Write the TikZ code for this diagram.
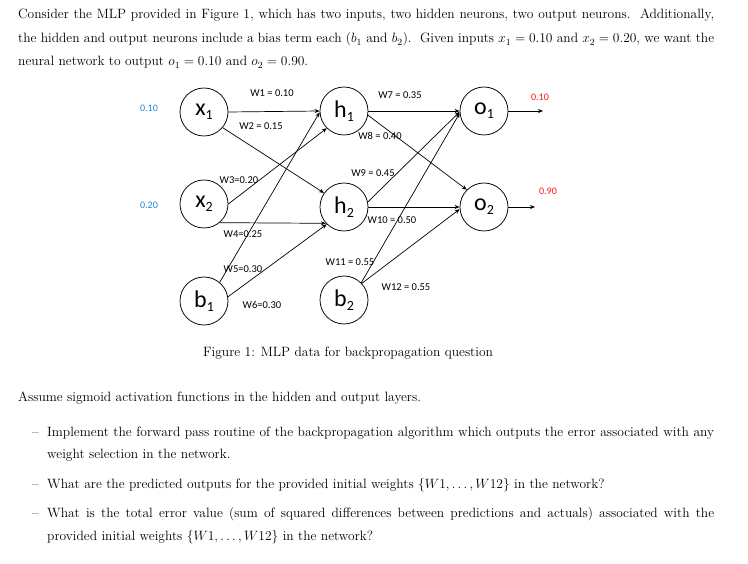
\RequirePackage{fix-cm}
\documentclass[tikz,border=0pt]{standalone}
\usepackage{fontspec}
\newfontfamily\diag{Carlito}
\usetikzlibrary{arrows.meta}
\definecolor{inblue}{RGB}{38,132,215}
\definecolor{outred}{RGB}{255,20,20}
\tikzset{
  neuron/.style={circle,draw=black,line width=0.75pt,minimum size=48pt,inner sep=0pt,font=\diag\fontsize{24}{24}\selectfont},
  conn/.style={line width=0.7pt,-{Stealth[length=5pt,width=4pt]}},
  wlab/.style={font=\diag\fontsize{10.5}{11}\selectfont,inner sep=0pt},
  inlab/.style={font=\diag\fontsize{10}{11}\selectfont,text=inblue,inner sep=0pt},
  outlab/.style={font=\diag\fontsize{10}{11}\selectfont,text=outred,inner sep=0pt},
  txt/.style={anchor=base west,inner sep=0pt,font=\fontsize{13.5}{16}\selectfont},
}
\newcommand{\nsub}[2]{#1\raisebox{-4pt}{\fontsize{14}{14}\selectfont #2}}
\newcommand{\mm}[1]{\mbox{$#1$}}
\begin{document}
\begin{tikzpicture}[x=1pt,y=-1pt]
\useasboundingbox (0,0) rectangle (748,564);
% text above
\node[txt] (t1) at (18,19) {\makebox[696pt][s]{Consider the MLP provided in Figure 1, which has two inputs, two hidden neurons, two output neurons.\ \ Additionally,}};
\node[txt] (t2) at (18,43) {\makebox[696pt][s]{the hidden and output neurons include a bias term each (\mm{b_1} and \mm{b_2}).\ \ Given inputs \mm{x_1=0.10} and \mm{x_2=0.20}, we want the}};
\node[txt] (t3) at (18,66) {neural network to output \mm{o_1=0.10} and \mm{o_2=0.90}.};
% neurons
\node[neuron] (x1) at (204,112) {\nsub{x}{1}};
\node[neuron] (x2) at (204,204) {\nsub{x}{2}};
\node[neuron] (b1) at (204,301) {\nsub{b}{1}};
\node[neuron] (h1) at (344,111) {\nsub{h}{1}};
\node[neuron] (h2) at (344,207) {\nsub{h}{2}};
\node[neuron] (b2) at (344,300) {\nsub{b}{2}};
\node[neuron] (o1) at (484,111) {\nsub{o}{1}};
\node[neuron] (o2) at (484,207) {\nsub{o}{2}};
\coordinate (e1) at (543,111);
\coordinate (e2) at (535,207);
% connectors
\draw[conn] (x1.east) -- (h1.west);
\draw[conn] (x1.-40) -- (h2.145);
\draw[conn] (x2.east) -- (h1.225);
\draw[conn] (x2.-50) -- (h2.222);
\draw[conn] (b1.50) -- (h1.183);
\draw[conn] (b1.10) -- (h2.225);
\draw[conn] (h1.east) -- (o1.west);
\draw[conn] (h1.-10) -- (o2.135);
\draw[conn] (h2.12) -- (o1.182);
\draw[conn] (h2.east) -- (o2.west);
\draw[conn] (b2.45) -- (o1.185);
\draw[conn] (b2.43) -- (o2.185);
\draw[conn] (o1.east) -- (e1);
\draw[conn] (o2.east) -- (e2);
% weight labels
\node[wlab] (l1) at (272,93) {W1 = 0.10};
\node[wlab] (l2) at (261,126) {W2 = 0.15};
\node[wlab] (l3) at (239,180) {W3=0.20};
\node[wlab] (l4) at (243,234) {W4=0.25};
\node[wlab] (l5) at (243,269) {W5=0.30};
\node[wlab] (l6) at (262,305) {W6=0.30};
\node[wlab] (l7) at (400,95) {W7 = 0.35};
\node[wlab] (l8) at (380,136) {W8 = 0.40};
\node[wlab] (l9) at (373,173) {W9 = 0.45};
\node[wlab] (l10) at (392,220) {W10 = 0.50};
\node[wlab] (l11) at (350,262) {W11 = 0.55};
\node[wlab] (l12) at (406,287) {W12 = 0.55};
\node[inlab] (i1) at (149,108) {0.10};
\node[inlab] (i2) at (149,205) {0.20};
\node[outlab] (r1) at (540,97) {0.10};
\node[outlab] (r2) at (548,191) {0.90};
% caption and text below
\node[anchor=base,inner sep=0pt,font=\fontsize{13.5}{16}\selectfont] (cap) at (348,357) {Figure 1: MLP data for backpropagation question};
\node[txt] (t4) at (18,402) {Assume sigmoid activation functions in the hidden and output layers.};
\node[txt] (d1) at (32,436) {--};
\node[txt] (t5) at (47,436) {\makebox[667pt][s]{Implement the forward pass routine of the backpropagation algorithm which outputs the error associated with any}};
\node[txt] (t6) at (47,458) {weight selection in the network.};
\node[txt] (d2) at (32,489) {--};
\node[txt] (t7) at (47,489) {What are the predicted outputs for the provided initial weights \mm{\{W1,\ldots,W12\}} in the network?};
\node[txt] (d3) at (32,517) {--};
\node[txt] (t8) at (47,517) {\makebox[667pt][s]{What is the total error value (sum of squared differences between predictions and actuals) associated with the}};
\node[txt] (t9) at (47,540) {provided initial weights \mm{\{W1,\ldots,W12\}} in the network?};
\end{tikzpicture}
\end{document}
